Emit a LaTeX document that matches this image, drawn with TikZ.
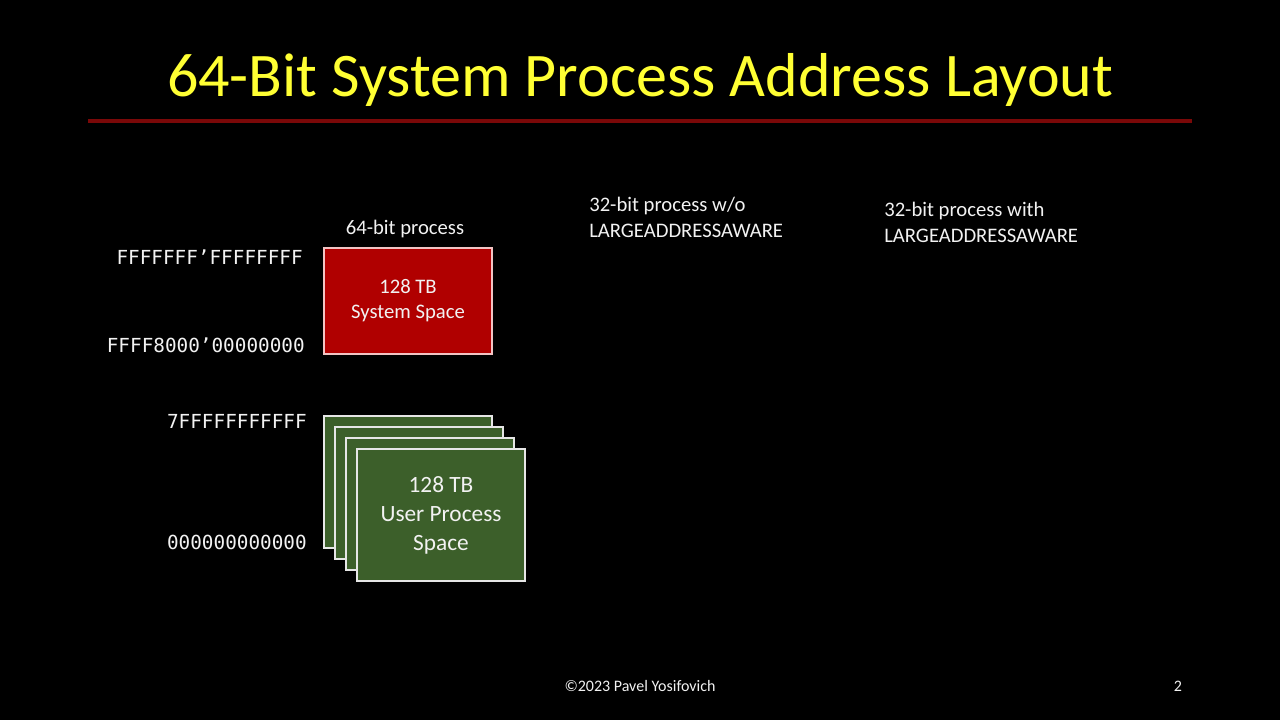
\documentclass[tikz,border=0pt]{standalone}
\usepackage{fontspec}
\setmainfont{Carlito}
\newfontfamily\addrfont{DejaVu Sans Mono}
\usepackage{tikz}
\usetikzlibrary{positioning}
\definecolor{cTitle}{HTML}{FFFF33}
\definecolor{cRule}{HTML}{7A0808}
\definecolor{cSys}{HTML}{B00000}
\definecolor{cSysEdge}{HTML}{F2C4C4}
\definecolor{cUsr}{HTML}{3C5F2A}
\definecolor{cUsrEdge}{HTML}{E6E6E6}
\definecolor{cText}{HTML}{F2F2F2}
\tikzset{
  hdr/.style    ={text=cTitle, font=\fontsize{46.5pt}{52pt}\selectfont, inner sep=0pt},
  caption/.style={text=cText, align=left, inner sep=0pt, font=\fontsize{15.5pt}{19.5pt}\selectfont},
  addr/.style   ={text=cText, anchor=east, inner sep=0pt, font=\addrfont\fontsize{14.5pt}{17pt}\selectfont},
  sysbox/.style ={draw=cSysEdge, fill=cSys, line width=0.8pt, minimum width=126pt, minimum height=79.5pt,
                  align=center, text=cText, font=\fontsize{15.5pt}{18.75pt}\selectfont},
  usrbox/.style ={draw=cUsrEdge, fill=cUsr, line width=0.8pt, minimum width=126pt, minimum height=99pt,
                  align=center, text=cText, font=\fontsize{17.5pt}{21.75pt}\selectfont},
  foot/.style   ={text=cText, inner sep=0pt, font=\fontsize{12pt}{14pt}\selectfont},
  rule/.style   ={draw=cRule, line width=2.4pt},
}
\begin{document}
\begin{tikzpicture}[x=0.75pt,y=-0.75pt]
  \fill[black] (0,0) rectangle (1280,720);
  \useasboundingbox (0,0) rectangle (1280,720);
  % title and rule
  \node[hdr] (title) at (640,80) {64-Bit System Process Address Layout};
  \draw[rule] (88,121) -- (1192,121);
  % column headings
  \node[caption] (p64) at (405,229) {64-bit process};
  \node[caption, anchor=west] (p32) at (589,217.5) {32-bit process w/o\\LARGEADDRESSAWARE};
  \node[caption, anchor=west] (p32l) at (884,222) {32-bit process with\\LARGEADDRESSAWARE};
  % system space
  \node[sysbox] (sys) at (408,301) {128 TB\\System Space};
  \node[addr] (sysTop) at (303,257) {FFFFFFF’FFFFFFFF};
  \node[addr] (sysBot) at (305,345) {FFFF8000’00000000};
  % user process spaces (stacked)
  \foreach \i in {0,1,2}
    \node[usrbox] (usr\i) at ({408+11*\i},{482+11*\i}) {};
  \node[usrbox] (usr3) at (441,515) {128 TB\\User Process\\Space};
  \node[addr] (usrTop) at (307,421) {7FFFFFFFFFFF};
  \node[addr] (usrBot) at (307,542) {000000000000};
  % footer
  \node[foot] (copy) at (640,686) {©2023 Pavel Yosifovich};
  \node[foot] (page) at (1178,686) {2};
\end{tikzpicture}
\end{document}
